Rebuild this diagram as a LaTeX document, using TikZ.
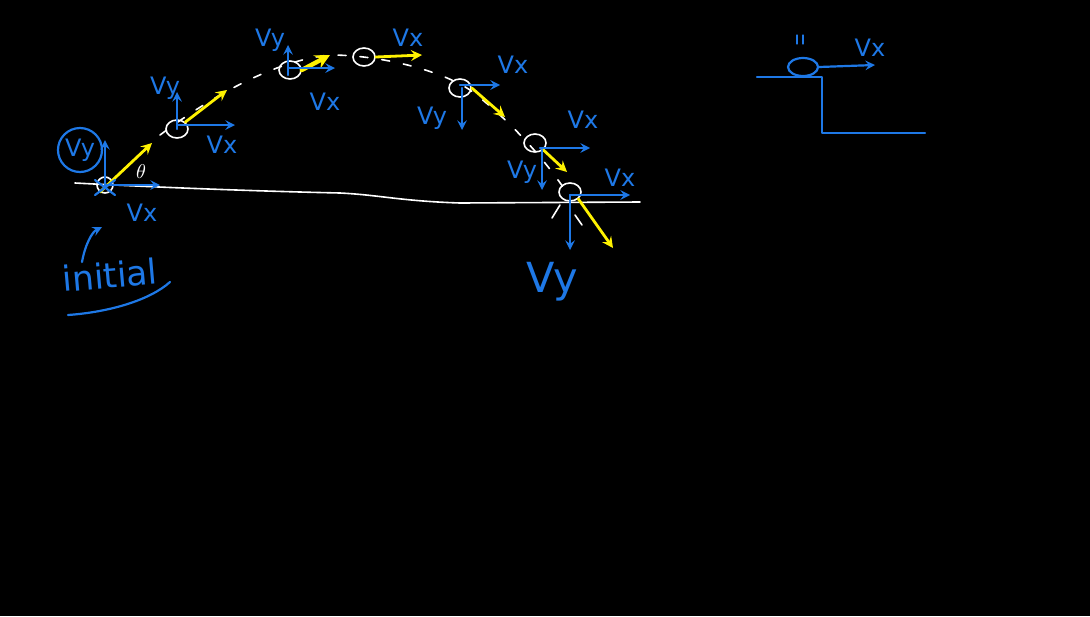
\documentclass[tikz,border=0pt]{standalone}
\usepackage{fontspec}
\setmainfont{DejaVu Sans}
\usetikzlibrary{shapes.geometric}
\begin{document}
\begin{tikzpicture}[x=0.5pt,y=-0.5pt,line cap=round,line join=round,
  bl/.style={draw={rgb,255:red,30;green,120;blue,230},line width=1.1pt},
  blar/.style={bl,-stealth},
  ye/.style={draw=yellow,line width=1.4pt,-stealth},
  wh/.style={draw=white,line width=0.8pt},
  ball/.style={wh,ellipse,minimum width=11pt,minimum height=9pt,inner sep=0pt},
  lab/.style={text={rgb,255:red,30;green,120;blue,230},font=\large,inner sep=0pt}]
\fill[black] (0,0) rectangle (1090,616);
\useasboundingbox (0,0) rectangle (1090,616);
% ground
\draw[wh] (75,183) .. controls (150,187) and (250,191) .. (340,193) .. controls (380,195) and (400,201) .. (460,203) -- (640,202);
% trajectory dashes
\draw[wh,dash pattern=on 4pt off 7pt] (160,135) .. controls (220,90) and (280,60) .. (330,55) .. controls (380,55) and (440,70) .. (470,90) .. controls (510,120) and (545,160) .. (565,190);
% balls
\draw[wh] (105,185) circle (8);
\node[ball] (b1) at (177,129) {};
\node[ball] (b2) at (290,70) {};
\node[ball] (b3) at (364,57) {};
\node[ball] (b4) at (460,88) {};
\node[ball] (b5) at (535,143) {};
\node[ball] (b6) at (570,192) {};
\draw[wh] (560,205) -- (552,218);
\draw[wh] (575,215) -- (582,225);
% yellow velocity arrows
\coordinate (y0) at (100,192);
\coordinate (y0e) at (152,143);
\draw[ye] (y0) -- (y0e);
\draw[ye] (b1.north east) -- (227,90);
\draw[ye,line width=2.2pt] (b2.east) -- (330,55);
\draw[ye] (b3.east) -- (422,55);
\draw[ye] (b4.east) -- (505,117);
\draw[ye] (b5.south east) -- (567,172);
\draw[ye] (b6.south east) -- (613,248);
% blue components
\draw[blar] (105,185) -- (160,185);
\draw[blar] (105,185) -- (105,140);
\draw[bl] (95,180) -- (115,195) (95,195) -- (115,180);
\draw[blar] (177,125) -- (235,125);
\draw[blar] (177,129) -- (177,92);
\draw[blar] (288,68) -- (335,68);
\draw[blar] (288,75) -- (288,45);
\draw[blar] (460,85) -- (500,85);
\draw[blar] (462,88) -- (462,130);
\draw[blar] (540,148) -- (590,148);
\draw[blar] (542,150) -- (542,190);
\draw[blar] (570,195) -- (630,195);
\draw[blar] (570,195) -- (570,250);
% labels
\node[lab] (l1) at (80,150) {Vy};
\draw[bl] (l1) circle (22);
\node[lab] (l2) at (142,213) {Vx};
\node[lab] at (165,88) {Vy};
\node[lab] at (222,145) {Vx};
\node[lab] at (270,40) {Vy};
\node[lab] at (325,102) {Vx};
\node[lab] at (408,38) {Vx};
\node[lab] at (513,65) {Vx};
\node[lab] at (432,118) {Vy};
\node[lab] at (583,120) {Vx};
\node[lab] at (522,172) {Vy};
\node[lab] at (620,178) {Vx};
\node[lab,font=\huge] at (552,282) {Vy};
\node[text=white] at (141,172) {$\theta$};
% initial
\node[lab,font=\LARGE,rotate=5] (ini) at (110,275) {initial};
\draw[blar] (82,262) .. controls (85,245) and (92,232) .. (102,227);
\draw[bl] (68,315) .. controls (110,312) and (150,300) .. (170,282);
% right cliff
\draw[bl] (757,77) -- (822,77) -- (822,133) -- (925,133);
\node[bl,ellipse,minimum width=15pt,minimum height=9pt,inner sep=0pt] (cb) at (803,67) {};
\draw[blar] (cb.east) -- (875,65);
\node[lab] at (870,48) {Vx};
\draw[bl,line width=0.6pt] (797,35) -- (797,44) (803,35) -- (803,44);
\end{tikzpicture}
\end{document}
